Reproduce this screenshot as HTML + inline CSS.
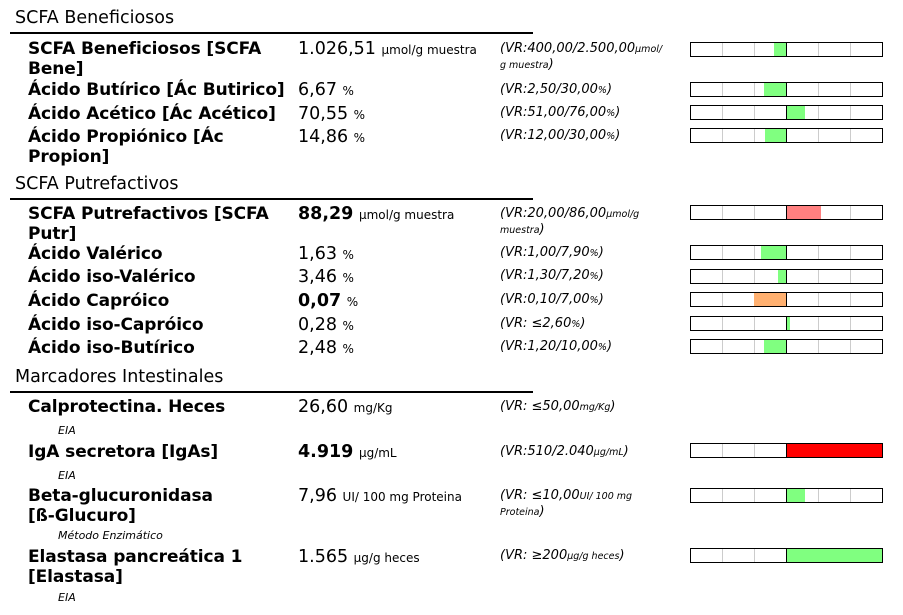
<!DOCTYPE html>
<html><head><meta charset="utf-8"><style>
body{margin:0;width:903px;height:615px;background:#fff;position:relative;overflow:hidden;font-family:"DejaVu Sans","Liberation Sans",sans-serif;color:#000}
.a{position:absolute;white-space:nowrap}
.h{font-size:17.5px;left:15px}
.ln{position:absolute;left:10px;width:523px;height:2px;background:#000}
.n{font-weight:bold;font-size:17px;left:28px;line-height:20px;letter-spacing:-0.1px}
.v{font-size:17.5px;left:298px;line-height:20px}
.v small{font-size:12px}
.r{font-size:13px;font-style:italic;left:500px;line-height:15px}
.r small{font-size:9.5px}
.m{font-size:11px;font-style:italic;left:58px}
.bar{position:absolute;left:690px;width:191px;height:13px;border:1px solid #000;background:
linear-gradient(to right,transparent 31px,#ccc 31px,#ccc 32px,transparent 32px,transparent 63px,#ccc 63px,#ccc 64px,transparent 64px,transparent 127px,#ccc 127px,#ccc 128px,transparent 128px,transparent 159px,#ccc 159px,#ccc 160px,transparent 160px)}
.bar:after{content:"";position:absolute;left:95px;top:0;width:1px;height:13px;background:#000}
.f{position:absolute;top:0;height:13px}
.g{background:#80ff80}
</style></head><body>
<div class="a h" style="top:8px">SCFA Beneficiosos</div>
<div class="ln" style="top:32px"></div>
<div class="a n" style="top:39px">SCFA Beneficiosos [SCFA<br>Bene]</div>
<div class="a v" style="top:39px">1.026,51 <small>µmol/g muestra</small></div>
<div class="a r" style="top:41px">(VR:400,00/2.500,00<small>µmol/</small><br><small>g muestra</small>)</div>
<div class="bar" style="top:42px"><div class="f g" style="left:83px;width:12px"></div></div>

<div class="a n" style="top:80px">Ácido Butírico [Ác Butirico]</div>
<div class="a v" style="top:80px">6,67 <small>%</small></div>
<div class="a r" style="top:82px">(VR:2,50/30,00<small>%</small>)</div>
<div class="bar" style="top:82px"><div class="f g" style="left:73px;width:22px"></div></div>

<div class="a n" style="top:104px">Ácido Acético [Ác Acético]</div>
<div class="a v" style="top:104px">70,55 <small>%</small></div>
<div class="a r" style="top:105px">(VR:51,00/76,00<small>%</small>)</div>
<div class="bar" style="top:105px"><div class="f g" style="left:96px;width:18px"></div></div>

<div class="a n" style="top:127px">Ácido Propiónico [Ác<br>Propion]</div>
<div class="a v" style="top:127px">14,86 <small>%</small></div>
<div class="a r" style="top:128px">(VR:12,00/30,00<small>%</small>)</div>
<div class="bar" style="top:128px"><div class="f g" style="left:74px;width:21px"></div></div>

<div class="a h" style="top:174px">SCFA Putrefactivos</div>
<div class="ln" style="top:198px"></div>
<div class="a n" style="top:204px">SCFA Putrefactivos [SCFA<br>Putr]</div>
<div class="a v" style="top:204px"><b>88,29</b> <small>µmol/g muestra</small></div>
<div class="a r" style="top:206px">(VR:20,00/86,00<small>µmol/g</small><br><small>muestra</small>)</div>
<div class="bar" style="top:205px"><div class="f" style="left:96px;width:34px;background:#ff8080"></div></div>

<div class="a n" style="top:244px">Ácido Valérico</div>
<div class="a v" style="top:244px">1,63 <small>%</small></div>
<div class="a r" style="top:245px">(VR:1,00/7,90<small>%</small>)</div>
<div class="bar" style="top:245px"><div class="f g" style="left:70px;width:25px"></div></div>

<div class="a n" style="top:267px">Ácido iso-Valérico</div>
<div class="a v" style="top:267px">3,46 <small>%</small></div>
<div class="a r" style="top:268px">(VR:1,30/7,20<small>%</small>)</div>
<div class="bar" style="top:269px"><div class="f g" style="left:87px;width:8px"></div></div>

<div class="a n" style="top:291px">Ácido Capróico</div>
<div class="a v" style="top:291px"><b>0,07</b> <small>%</small></div>
<div class="a r" style="top:292px">(VR:0,10/7,00<small>%</small>)</div>
<div class="bar" style="top:292px"><div class="f" style="left:63px;width:32px;background:#ffb070"></div></div>

<div class="a n" style="top:315px">Ácido iso-Capróico</div>
<div class="a v" style="top:315px">0,28 <small>%</small></div>
<div class="a r" style="top:316px">(VR: ≤2,60<small>%</small>)</div>
<div class="bar" style="top:316px"><div class="f g" style="left:96px;width:3px"></div></div>

<div class="a n" style="top:338px">Ácido iso-Butírico</div>
<div class="a v" style="top:338px">2,48 <small>%</small></div>
<div class="a r" style="top:339px">(VR:1,20/10,00<small>%</small>)</div>
<div class="bar" style="top:339px"><div class="f g" style="left:73px;width:22px"></div></div>

<div class="a h" style="top:367px">Marcadores Intestinales</div>
<div class="ln" style="top:391px"></div>
<div class="a n" style="top:397px">Calprotectina. Heces</div>
<div class="a v" style="top:397px">26,60 <small>mg/Kg</small></div>
<div class="a r" style="top:399px">(VR: ≤50,00<small>mg/Kg</small>)</div>
<div class="a m" style="top:424px">EIA</div>

<div class="a n" style="top:442px">IgA secretora [IgAs]</div>
<div class="a v" style="top:442px"><b>4.919</b> <small>µg/mL</small></div>
<div class="a r" style="top:444px">(VR:510/2.040<small>µg/mL</small>)</div>
<div class="bar" style="top:443px"><div class="f" style="left:96px;width:95px;background:#ff0000"></div></div>
<div class="a m" style="top:469px">EIA</div>

<div class="a n" style="top:486px">Beta-glucuronidasa<br>[ß-Glucuro]</div>
<div class="a v" style="top:486px">7,96 <small>UI/ 100 mg Proteina</small></div>
<div class="a r" style="top:488px">(VR: ≤10,00<small>UI/ 100 mg</small><br><small>Proteina</small>)</div>
<div class="bar" style="top:488px"><div class="f g" style="left:96px;width:18px"></div></div>
<div class="a m" style="top:529px">Método Enzimático</div>

<div class="a n" style="top:547px">Elastasa pancreática 1<br>[Elastasa]</div>
<div class="a v" style="top:547px">1.565 <small>µg/g heces</small></div>
<div class="a r" style="top:548px">(VR: ≥200<small>µg/g heces</small>)</div>
<div class="bar" style="top:548px"><div class="f g" style="left:96px;width:95px"></div></div>
<div class="a m" style="top:591px">EIA</div>
</body></html>
